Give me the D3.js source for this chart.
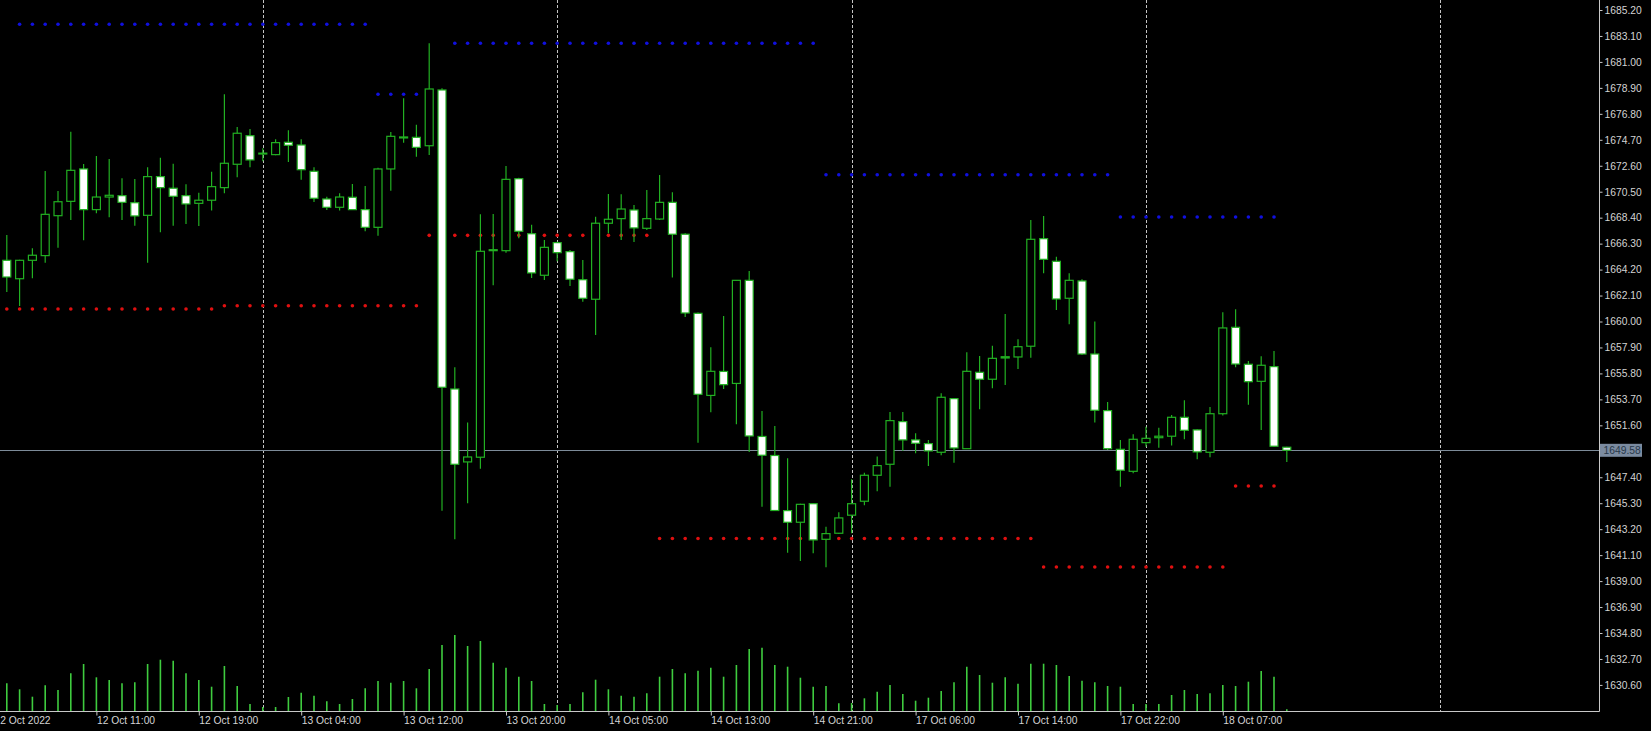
<!DOCTYPE html>
<html><head><meta charset="utf-8">
<script src="https://cdn.jsdelivr.net/npm/d3@7"></script>
<style>html,body{margin:0;padding:0;background:#000;overflow:hidden}svg{display:block}</style>
</head><body><svg id="c" width="1651" height="731"></svg>
<script>
// ---- data ----
const sessions = [["12 Oct",3,23],["13 Oct",1,23],["14 Oct",1,23],["17 Oct",1,23],["18 Oct",1,23],["19 Oct",1,1]];
const firstBar = "12 Oct 04:00";
const open  = [1664.95,1663.46,1664.95,1665.33,1668.56,1669.72,1672.34,1669.05,1670.07,1670.18,1669.61,1668.59,1671.72,1670.78,1670.18,1669.56,1669.81,1670.83,1672.72,1675.03,
1673.55,1673.50,1674.50,1674.28,1672.15,1669.91,1669.24,1670.05,1669.05,1667.62,1672.34,1674.85,1674.90,1674.22,1678.73,1654.54,1648.64,1649.02,1665.73,1665.73,1671.55,1667.10,1663.74,
1666.38,1665.65,1663.38,1661.80,1667.95,1668.32,1669.02,1667.54,1668.29,1669.64,1667.06,1660.66,1654.02,1655.96,1654.99,1663.33,1650.70,1649.16,1644.70,1643.76,1645.26,1642.38,1642.87,
1644.33,1645.46,1647.56,1648.45,1651.90,1650.42,1650.12,1649.42,1653.76,1649.71,1655.89,1655.33,1657.05,1657.13,1658.00,1666.70,1664.87,1661.88,1663.28,1657.37,1652.79,1649.66,1647.88,
1650.20,1650.60,1650.72,1652.25,1651.23,1649.42,1652.54,1659.53,1656.54,1655.16,1656.35,1649.83];
const high  = [1667.00,1665.00,1665.92,1672.18,1670.56,1675.36,1672.74,1673.39,1673.15,1671.59,1671.53,1672.48,1673.25,1672.77,1671.10,1670.42,1672.12,1678.38,1675.74,1675.57,
1674.01,1674.74,1675.47,1674.74,1672.48,1670.10,1670.37,1671.12,1670.96,1672.44,1675.33,1678.06,1675.92,1682.51,1678.87,1656.30,1651.82,1668.67,1668.70,1672.58,1671.62,1667.83,1666.60,
1666.45,1665.79,1664.98,1668.48,1670.32,1670.29,1669.43,1670.64,1671.85,1670.45,1667.14,1660.72,1657.92,1660.45,1663.36,1664.09,1652.75,1651.55,1648.94,1645.25,1645.30,1643.40,1644.57,
1647.24,1647.77,1649.07,1652.68,1652.68,1650.96,1650.42,1654.19,1653.80,1657.51,1657.21,1658.04,1660.61,1658.56,1668.21,1668.54,1665.24,1663.90,1663.42,1659.99,1653.49,1650.42,1650.88,
1651.49,1651.41,1652.44,1653.63,1651.28,1653.09,1660.75,1660.99,1656.81,1657.19,1657.62,1649.86];
const low   = [1662.39,1661.26,1663.50,1664.76,1665.97,1668.21,1666.57,1668.75,1668.43,1668.21,1667.75,1664.76,1667.22,1667.75,1667.89,1667.73,1668.97,1670.37,1671.67,1672.48,
1672.96,1673.45,1672.90,1671.47,1669.67,1669.02,1668.97,1669.02,1667.30,1666.94,1670.58,1674.47,1673.33,1673.47,1644.70,1642.38,1645.30,1648.09,1662.93,1665.57,1666.73,1663.52,1663.36,
1664.87,1662.87,1661.60,1658.91,1667.13,1666.60,1666.43,1667.40,1668.21,1663.56,1660.37,1650.20,1652.66,1654.54,1651.69,1649.45,1645.02,1644.69,1641.30,1640.63,1641.25,1640.12,1642.80,
1642.87,1645.13,1646.27,1646.64,1649.55,1649.34,1648.31,1649.18,1648.58,1649.68,1652.90,1654.60,1654.86,1656.16,1657.07,1663.90,1660.93,1659.78,1657.29,1651.82,1649.61,1646.64,1647.72,
1649.87,1649.79,1649.96,1650.47,1648.86,1649.02,1652.40,1656.30,1653.27,1651.23,1649.87,1648.64];
const close = [1663.60,1664.95,1665.36,1668.67,1669.69,1672.23,1669.05,1670.07,1670.21,1669.64,1668.54,1671.72,1670.83,1670.13,1669.51,1669.81,1670.91,1672.80,1675.23,1673.07,
1673.62,1674.47,1674.26,1672.28,1669.97,1669.24,1670.07,1669.05,1667.62,1672.34,1674.98,1674.93,1674.09,1678.81,1654.68,1648.45,1649.04,1665.68,1665.81,1671.50,1667.30,1663.93,1666.00,
1665.57,1663.42,1661.88,1667.95,1668.27,1669.10,1667.57,1668.32,1669.64,1667.06,1660.69,1654.11,1655.97,1654.89,1663.33,1650.74,1649.18,1644.71,1643.76,1645.21,1642.33,1642.84,1644.11,
1645.26,1647.56,1648.34,1651.98,1650.42,1650.15,1649.53,1653.87,1649.77,1655.97,1655.33,1657.02,1657.15,1657.96,1666.65,1665.03,1661.82,1663.33,1657.37,1652.82,1649.71,1647.97,1650.47,
1650.55,1650.72,1652.25,1651.20,1649.45,1652.54,1659.48,1656.56,1655.13,1656.46,1649.91,1649.58];
const volume = [2770,2170,1430,2570,2100,3770,4700,3370,3100,2770,2870,4700,5130,5030,3770,3100,2430,4500,2500,700,
400,400,1400,1830,1530,970,700,1200,2270,3000,2830,3000,2270,4200,6600,7600,6500,7000,4830,4330,3430,3000,700,
600,700,1870,3130,2170,1530,1430,1770,3430,4200,3770,4030,4330,3430,4600,6200,6330,4600,4430,3330,2430,2500,770,
800,1270,1930,2600,1700,1030,1330,2000,2870,4430,3600,2830,3370,2730,4730,4730,4600,3500,3030,2870,2500,2430,700,
700,700,1600,2100,1700,1770,2600,2500,2930,4000,3430,170];
const resistance = [
  {from:"12 Oct 05:00", to:"13 Oct 09:00", level:1684.05},
  {from:"13 Oct 10:00", to:"13 Oct 15:00", level:1678.38},
  {from:"13 Oct 16:00", to:"14 Oct 21:00", level:1682.51},
  {from:"14 Oct 22:00", to:"17 Oct 21:00", level:1671.87},
  {from:"17 Oct 22:00", to:"18 Oct 11:00", level:1668.45}];
const support = [
  {from:"12 Oct 04:00", to:"12 Oct 20:00", level:1661.01},
  {from:"12 Oct 21:00", to:"13 Oct 13:00", level:1661.28},
  {from:"13 Oct 14:00", to:"14 Oct 08:00", level:1666.97},
  {from:"14 Oct 09:00", to:"17 Oct 15:00", level:1642.44},
  {from:"17 Oct 16:00", to:"18 Oct 07:00", level:1640.14},
  {from:"18 Oct 08:00", to:"18 Oct 11:00", level:1646.69}];
const tickSlots  = ["12 Oct 03:00","12 Oct 11:00","12 Oct 19:00","13 Oct 04:00","13 Oct 12:00","13 Oct 20:00","14 Oct 05:00","14 Oct 13:00","14 Oct 21:00","17 Oct 06:00","17 Oct 14:00","17 Oct 22:00","18 Oct 07:00"];
const tickLabels = ["12 Oct 2022","12 Oct 11:00","12 Oct 19:00","13 Oct 04:00","13 Oct 12:00","13 Oct 20:00","14 Oct 05:00","14 Oct 13:00","14 Oct 21:00","17 Oct 06:00","17 Oct 14:00","17 Oct 22:00","18 Oct 07:00"];
const priceTicks = [1685.20,1683.10,1681.00,1678.90,1676.80,1674.70,1672.60,1670.50,1668.40,1666.30,1664.20,1662.10,1660.00,1657.90,1655.80,1653.70,1651.60,1647.40,1645.30,1643.20,1641.10,1639.00,1636.90,1634.80,1632.70,1630.60];
const bid = 1649.58;

// ---- layout ----
const W = 1651, H = 731, plotR = 1599, plotB = 711, step = 12.8, x0 = -6;
const GREEN = "#22b022", VOLC = "#3fcc3f", TXT = "#d4d4d4", AXIS = "#c8c8c8";
const slots = [];
sessions.forEach(([d,a,b]) => { for (let h=a; h<=b; h++) slots.push(d+" "+String(h).padStart(2,"0")+":00"); });
const x = d3.scalePoint().domain(slots).range([x0, x0 + step*(slots.length-1)]);
const y = d3.scaleLinear().domain([1628.49, 1686.009]).range([plotB, 0]);
const start = slots.indexOf(firstBar);
const bars = open.map((o,i) => ({t: slots[start+i], o, h: high[i], l: low[i], c: close[i], v: volume[i]}));
const yv = d3.scaleLinear().domain([0, d3.max(volume)]).range([plotB, plotB-76]);

const svg = d3.select("#c");
svg.append("rect").attr("width",W).attr("height",H).attr("fill","#000");
svg.append("defs").append("clipPath").attr("id","pc").append("rect").attr("x",0).attr("y",0).attr("width",plotR).attr("height",plotB);
const g = svg.append("g").attr("clip-path","url(#pc)");

// period separators
g.selectAll("line.sep").data(slots.filter(s => s.endsWith(" 01:00"))).join("line")
  .attr("x1", d => Math.round(x(d))+0.5).attr("x2", d => Math.round(x(d))+0.5)
  .attr("y1",0).attr("y2",plotB).attr("stroke","#c4c4c4").attr("stroke-width",1).attr("stroke-dasharray","3,2");

// volumes
g.selectAll("line.vol").data(bars).join("line")
  .attr("x1", d => x(d.t)).attr("x2", d => x(d.t))
  .attr("y1", plotB).attr("y2", d => yv(d.v)).attr("stroke",VOLC).attr("stroke-width",1.6);

// level dots
function dots(levels, color){
  levels.forEach(L => {
    const a = slots.indexOf(L.from), b = slots.indexOf(L.to);
    g.append("g").selectAll("circle").data(slots.slice(a,b+1)).join("circle")
      .attr("cx", d => x(d)).attr("cy", y(L.level)).attr("r",1.8).attr("fill",color);
  });
}
dots(support, "#e01010");
dots(resistance, "#1010e0");

// bid line
g.append("line").attr("x1",0).attr("x2",plotR).attr("y1",Math.round(y(bid))+0.5).attr("y2",Math.round(y(bid))+0.5)
  .attr("stroke","#7d8b99").attr("stroke-width",1);

// candles
const cg = g.selectAll("g.cd").data(bars).join("g");
cg.append("line").attr("x1", d => x(d.t)).attr("x2", d => x(d.t))
  .attr("y1", d => y(d.h)).attr("y2", d => y(d.l)).attr("stroke",GREEN).attr("stroke-width",1.2);
cg.append("rect").attr("x", d => x(d.t)-4).attr("width",8)
  .attr("y", d => y(Math.max(d.o,d.c)))
  .attr("height", d => Math.max(0.8, Math.abs(y(d.o)-y(d.c))))
  .attr("fill", d => d.c >= d.o ? "#000" : "#ffffff")
  .attr("stroke",GREEN).attr("stroke-width",1.2);

// axes
svg.append("line").attr("x1",plotR+0.5).attr("x2",plotR+0.5).attr("y1",0).attr("y2",plotB+0.5).attr("stroke",AXIS);
svg.append("line").attr("x1",0).attr("x2",plotR+0.5).attr("y1",plotB+0.5).attr("y2",plotB+0.5).attr("stroke",AXIS);
const ya = svg.append("g").attr("transform",`translate(${plotR+0.5},0)`)
  .call(d3.axisRight(y).tickValues(priceTicks).tickFormat(d3.format(".2f")).tickSize(3).tickPadding(2));
ya.select(".domain").remove();
ya.selectAll("line").attr("stroke",AXIS);
ya.selectAll("text").attr("fill",TXT).style("font-family","'Liberation Sans',Arial,sans-serif").style("font-size","10.3px");
const xa = svg.append("g").attr("transform",`translate(0,${plotB+0.5})`)
  .call(d3.axisBottom(x).tickValues(tickSlots).tickFormat((d,i)=>tickLabels[i]).tickSize(4).tickPadding(3));
xa.select(".domain").remove();
xa.selectAll("line").attr("stroke",AXIS);
xa.selectAll("text").attr("fill",TXT).attr("text-anchor","start").attr("dy","0.55em")
  .style("font-family","'Liberation Sans',Arial,sans-serif").style("font-size","10.3px");

// bid label
const by = y(bid);
svg.append("rect").attr("x",plotR+1).attr("y",by-6.5).attr("width",42).attr("height",13).attr("fill","#7b8ba0");
svg.append("text").attr("x",plotR+4.5).attr("y",by+3.8).text(d3.format(".2f")(bid))
  .attr("fill","#27384a").style("font-family","'Liberation Sans',Arial,sans-serif").style("font-size","10.3px");
</script></body></html>
